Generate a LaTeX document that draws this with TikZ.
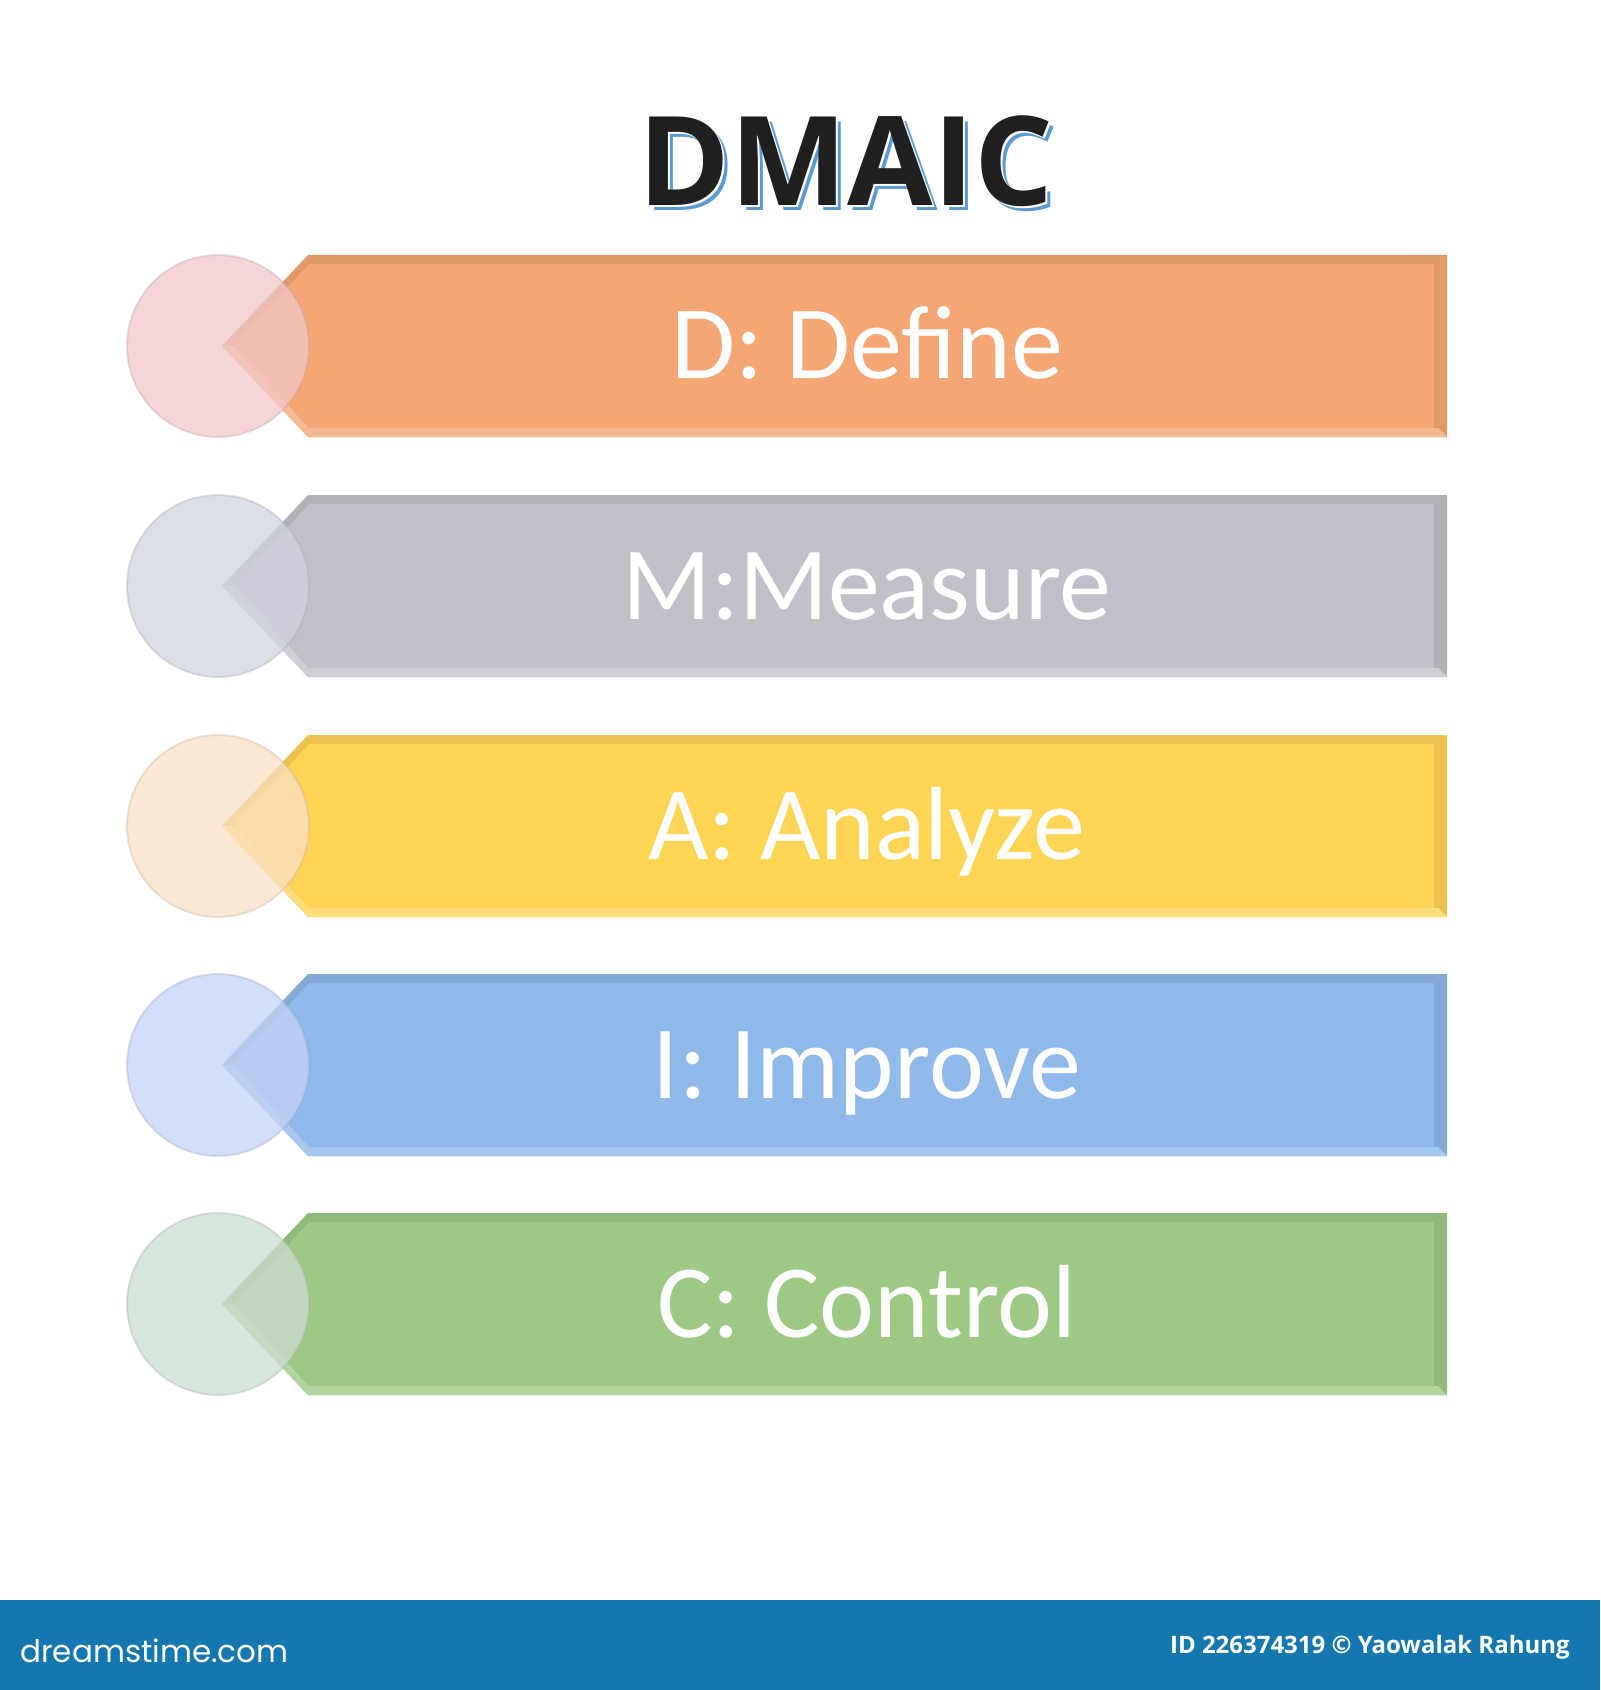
\documentclass[tikz,border=0pt]{standalone}
\usepackage{fontspec}
\setmainfont{Carlito}
\newfontfamily\logofont{Poppins}
\newfontfamily\idfont{Open Sans}
\usepackage{tikz}
\usetikzlibrary{positioning,calc}
\usepackage{xcolor}
\definecolor{barD}{RGB}{244, 166, 116}
\definecolor{barM}{RGB}{192, 192, 200}
\definecolor{barA}{RGB}{254, 212, 84}
\definecolor{barI}{RGB}{142, 185, 232}
\definecolor{barC}{RGB}{157, 201, 133}
\definecolor{dotD}{RGB}{242, 200, 200}
\definecolor{dotM}{RGB}{210, 212, 223}
\definecolor{dotA}{RGB}{251, 224, 195}
\definecolor{dotI}{RGB}{196, 212, 245}
\definecolor{dotC}{RGB}{203, 222, 210}
\definecolor{shadowblue}{RGB}{91, 155, 213}
\definecolor{banner}{RGB}{20, 119, 175}

\begin{document}
\begin{tikzpicture}[
    x=0.5pt, y=-0.5pt,
    titletext/.style={anchor=base, inner sep=0pt,
        font=\idfont\bfseries\fontsize{62}{62}\selectfont},
    dot/.style={circle, minimum size=91pt, inner sep=0pt,
        fill opacity=0.75, draw opacity=0.35, line width=1pt},
    steplabel/.style={anchor=base, inner sep=0pt, text=white,
        font=\fontsize{52}{52}\selectfont},
]
\useasboundingbox (0,0) rectangle (1600,1690);

% === TITLE ===
\node[titletext, text=shadowblue] (ttlB) at (851,211) {DMAIC};
\node[titletext, text=white] (ttlW) at (848,208) {DMAIC};
\node[titletext, text=black!88] (ttl) at (846,206) {DMAIC};

% === D: DEFINE ===
\coordinate (tD) at (222,346);
\fill[barD!92!black] (tD) -- ++(86,-91) -- ++(1139,0) -- ++(0,182) -- ++(-1139,0) -- cycle;
\fill[barD!78!white] (tD) -- ++(86,91) -- ++(1139,0) -- ++(-9,-9) -- ++(-1125,0) -- ++(-75,-82) -- cycle;
\fill[barD] (tD) ++(12,0) -- ++(75,-82) -- ++(1125,0) -- ++(0,164) -- ++(-1125,0) -- cycle;
\node[dot, fill=dotD, draw=dotD!80!black] (cD) at (218,346) {};
\node[steplabel] (lD) at (867,379) {D: Define};

% === M: MEASURE ===
\coordinate (tM) at (222,586);
\fill[barM!92!black] (tM) -- ++(86,-91) -- ++(1139,0) -- ++(0,182) -- ++(-1139,0) -- cycle;
\fill[barM!78!white] (tM) -- ++(86,91) -- ++(1139,0) -- ++(-9,-9) -- ++(-1125,0) -- ++(-75,-82) -- cycle;
\fill[barM] (tM) ++(12,0) -- ++(75,-82) -- ++(1125,0) -- ++(0,164) -- ++(-1125,0) -- cycle;
\node[dot, fill=dotM, draw=dotM!80!black] (cM) at (218,586) {};
\node[steplabel] (lM) at (867,619) {M:Measure};

% === A: ANALYZE ===
\coordinate (tA) at (222,826);
\fill[barA!92!black] (tA) -- ++(86,-91) -- ++(1139,0) -- ++(0,182) -- ++(-1139,0) -- cycle;
\fill[barA!78!white] (tA) -- ++(86,91) -- ++(1139,0) -- ++(-9,-9) -- ++(-1125,0) -- ++(-75,-82) -- cycle;
\fill[barA] (tA) ++(12,0) -- ++(75,-82) -- ++(1125,0) -- ++(0,164) -- ++(-1125,0) -- cycle;
\node[dot, fill=dotA, draw=dotA!80!black] (cA) at (218,826) {};
\node[steplabel] (lA) at (867,859) {A: Analyze};

% === I: IMPROVE ===
\coordinate (tI) at (222,1065);
\fill[barI!92!black] (tI) -- ++(86,-91) -- ++(1139,0) -- ++(0,182) -- ++(-1139,0) -- cycle;
\fill[barI!78!white] (tI) -- ++(86,91) -- ++(1139,0) -- ++(-9,-9) -- ++(-1125,0) -- ++(-75,-82) -- cycle;
\fill[barI] (tI) ++(12,0) -- ++(75,-82) -- ++(1125,0) -- ++(0,164) -- ++(-1125,0) -- cycle;
\node[dot, fill=dotI, draw=dotI!80!black] (cI) at (218,1065) {};
\node[steplabel] (lI) at (867,1098) {I: Improve};

% === C: CONTROL ===
\coordinate (tC) at (222,1304);
\fill[barC!92!black] (tC) -- ++(86,-91) -- ++(1139,0) -- ++(0,182) -- ++(-1139,0) -- cycle;
\fill[barC!78!white] (tC) -- ++(86,91) -- ++(1139,0) -- ++(-9,-9) -- ++(-1125,0) -- ++(-75,-82) -- cycle;
\fill[barC] (tC) ++(12,0) -- ++(75,-82) -- ++(1125,0) -- ++(0,164) -- ++(-1125,0) -- cycle;
\node[dot, fill=dotC, draw=dotC!80!black] (cC) at (218,1304) {};
\node[steplabel] (lC) at (867,1337) {C: Control};

% === BANNER ===
\fill[banner] (0,1600) rectangle (1600,1690);
\node[anchor=base west, inner sep=0pt, text=white, font=\logofont\fontsize{15.5}{15.5}\selectfont] (site) at (20,1662) {dreamstime.com};
\node[anchor=base east, inner sep=0pt, text=white, font=\idfont\bfseries\fontsize{12}{12}\selectfont] (credit) at (1570,1653) {ID 226374319 © Yaowalak Rahung};

\end{tikzpicture}
\end{document}
